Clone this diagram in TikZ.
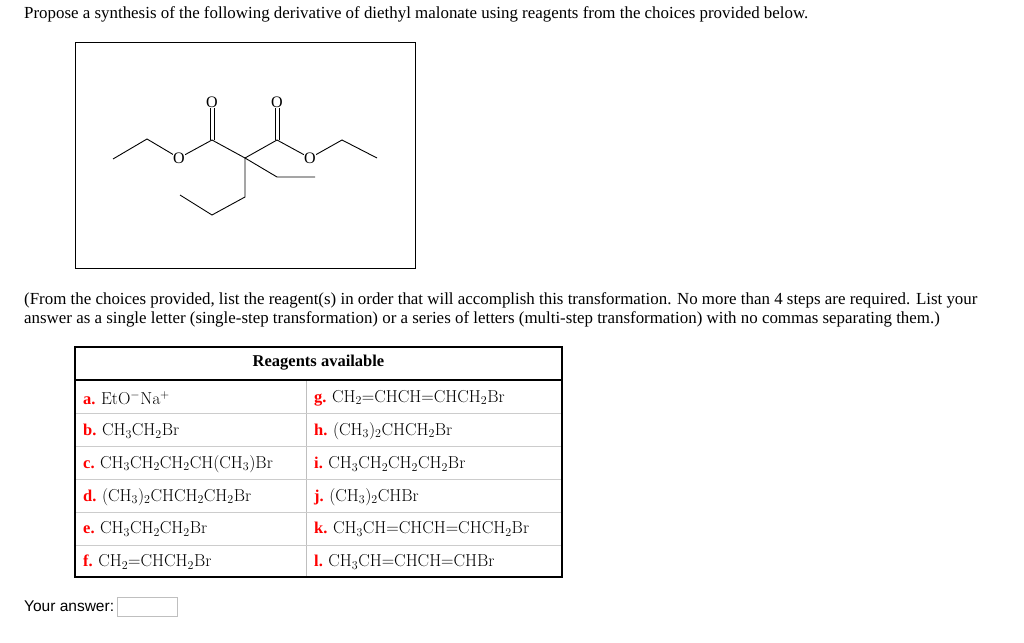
\documentclass[tikz,border=0pt]{standalone}
\usepackage[no-math]{fontspec}
\setmainfont{Liberation Serif}
\newfontfamily\arialf{Liberation Sans}
\newcommand{\fm}[1]{{\fontsize{17.2}{19}\selectfont$\mathrm{#1}$}}
\begin{document}
\begin{tikzpicture}[x=1pt,y=-1pt,
  txt/.style={anchor=west,inner sep=0pt,font=\fontsize{16.9}{19}\selectfont},
  cell/.style={anchor=west,inner sep=0pt,font=\fontsize{16.5}{19}\selectfont},
  bond/.style={line width=0.9pt},
  atom/.style={inner sep=0.5pt,fill=white,font=\fontsize{16}{16}\selectfont}]
\useasboundingbox (0,0) rectangle (1024,642);
\node[txt] (q) at (24,14) {Propose a synthesis of the following derivative of diethyl malonate using reagents from the choices provided below.};
\draw[line width=0.8pt] (75,42) rectangle (415,268);
% molecule
\coordinate (a1) at (113,159); \coordinate (a2) at (147,139);
\coordinate (o1) at (179,158); \coordinate (c1) at (212,140);
\coordinate (cc) at (245,158); \coordinate (c2) at (277,140);
\coordinate (o2) at (310,158); \coordinate (a3) at (342,140);
\coordinate (a4) at (377,158);
\coordinate (e1) at (277,177); \coordinate (e2) at (315,177);
\coordinate (p1) at (245,197); \coordinate (p2) at (212,215); \coordinate (p3) at (180,195);
\draw[bond] (a1)--(a2)--(o1)--(c1)--(cc)--(c2)--(o2)--(a3)--(a4);
\draw[bond] (cc)--(e1)--(e2);
\draw[bond] (cc)--(p1)--(p2)--(p3);
\draw[bond] ([xshift=-2pt]c1)--++(0,-33) ([xshift=2pt]c1)--++(0,-33);
\draw[bond] ([xshift=-2pt]c2)--++(0,-33) ([xshift=2pt]c2)--++(0,-33);
\node[atom] (O1) at (o1) {O}; \node[atom] (O2) at (o2) {O};
\node[atom] (O3) at (212,102) {O}; \node[atom] (O4) at (277,102) {O};
\node[txt] (p) at (24,300) {(From the choices provided, list the reagent(s) in order that will accomplish this transformation. No more than 4 steps are required. List your};
\node[txt] (p') at (24,319) {answer as a single letter (single-step transformation) or a series of letters (multi-step transformation) with no commas separating them.)};
% table
\draw[gray!50,line width=0.8pt] (306,380)--(306,577);
\foreach \y in {413,446,479,512,545} \draw[gray!40,line width=0.8pt] (75,\y)--(562,\y);
\draw[line width=1.2pt] (75,380)--(562,380);
\draw[line width=1.5pt] (75,347) rectangle (562,577);
\node[cell,anchor=center,font=\bfseries\fontsize{16.5}{19}\selectfont] (h) at (318.5,363) {Reagents available};
\node[cell] (ra) at (83,398) {\textcolor{red}{\bfseries a.} \fm{EtO^-Na^+}};
\node[cell] (rb) at (83,431) {\textcolor{red}{\bfseries b.} \fm{CH_3CH_2Br}};
\node[cell] (rc) at (83,464) {\textcolor{red}{\bfseries c.} \fm{CH_3CH_2CH_2CH(CH_3)Br}};
\node[cell] (rd) at (83,497) {\textcolor{red}{\bfseries d.} \fm{(CH_3)_2CHCH_2CH_2Br}};
\node[cell] (re) at (83,529) {\textcolor{red}{\bfseries e.} \fm{CH_3CH_2CH_2Br}};
\node[cell] (rf) at (83,562) {\textcolor{red}{\bfseries f.} \fm{CH_2{=}CHCH_2Br}};
\node[cell] (rg) at (314,398) {\textcolor{red}{\bfseries g.} \fm{CH_2{=}CHCH{=}CHCH_2Br}};
\node[cell] (rh) at (314,431) {\textcolor{red}{\bfseries h.} \fm{(CH_3)_2CHCH_2Br}};
\node[cell] (ri) at (314,464) {\textcolor{red}{\bfseries i.} \fm{CH_3CH_2CH_2CH_2Br}};
\node[cell] (rj) at (314,497) {\textcolor{red}{\bfseries j.} \fm{(CH_3)_2CHBr}};
\node[cell] (rk) at (314,529) {\textcolor{red}{\bfseries k.} \fm{CH_3CH{=}CHCH{=}CHCH_2Br}};
\node[cell] (rl) at (314,562) {\textcolor{red}{\bfseries l.} \fm{CH_3CH{=}CHCH{=}CHBr}};
\node[txt,font=\arialf\fontsize{15.5}{18}\selectfont] (ya) at (24,606) {Your answer:};
\draw[gray!50] (117,597) rectangle (177,616);
\end{tikzpicture}
\end{document}
